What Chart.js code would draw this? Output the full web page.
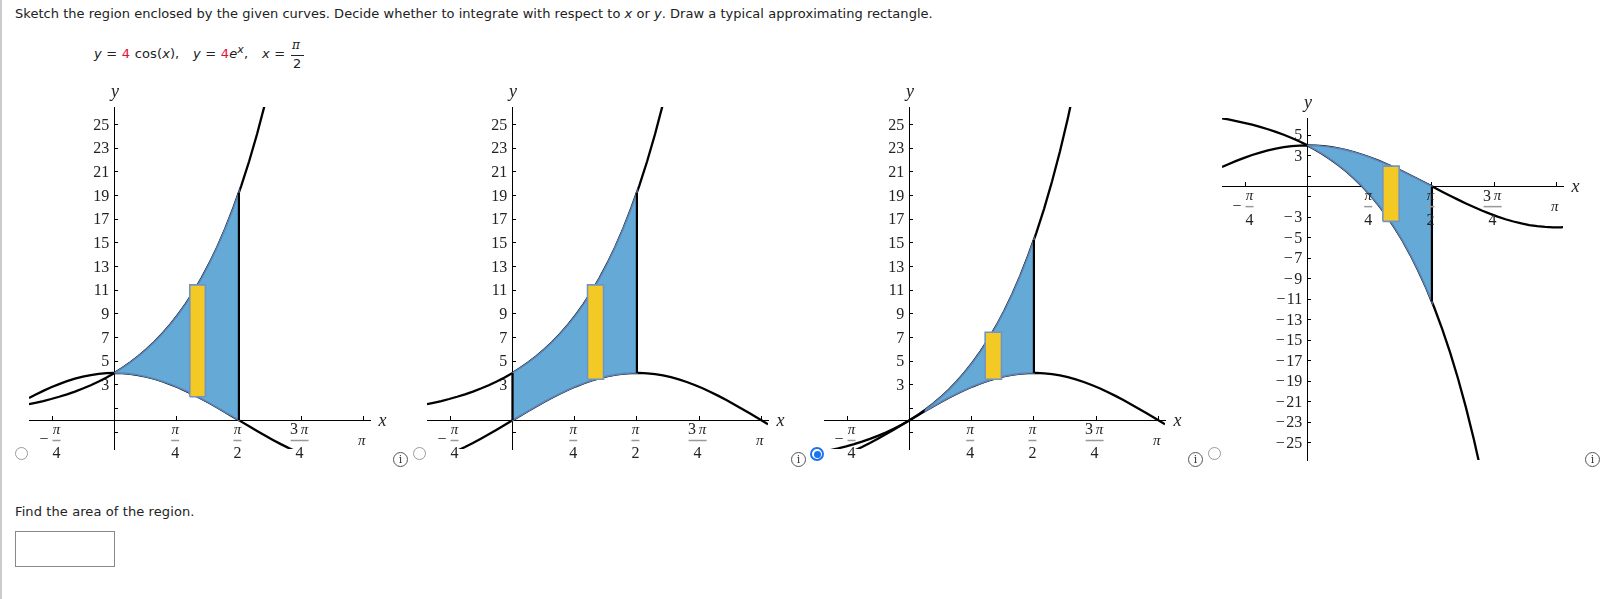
<!DOCTYPE html>
<html>
<head>
<meta charset="utf-8">
<title>Region between curves</title>
<script src="https://cdn.jsdelivr.net/npm/chart.js@4/dist/chart.umd.js"></script>
<style>
    html, body { margin: 0; padding: 0; background: #fff; overflow: hidden; }
    body { width: 1606px; height: 599px; position: relative; font-family: "DejaVu Sans", sans-serif; font-size: 13px; color: #222; }
    canvas { position: absolute; }
    .strip { position: absolute; left: 0; top: 0; width: 2px; height: 599px; background: #ccc; }
    .txt { position: absolute; white-space: nowrap; line-height: 16px; }
    .formula { letter-spacing: 0.1px; word-spacing: 0.3px; }
    .red { color: #e0103a; }
    .frac-bar { position: absolute; height: 1px; background: #222; }
    .answer { position: absolute; left: 15px; top: 531px; width: 98px; height: 34px; border: 1px solid #888; box-sizing: content-box; }
    .radio { position: absolute; width: 11px; height: 11px; border: 1.5px solid #999; border-radius: 50%; background: #fff; z-index: 2; }
    .radio.on { border: 2px solid #1a73f0; width: 10px; height: 10px; }
    .radio.on::after { content: ""; position: absolute; left: 1.5px; top: 1.5px; width: 7px; height: 7px; border-radius: 50%; background: #1a73f0; }
    .info { position: absolute; width: 13px; height: 13px; border: 1px solid #555; border-radius: 50%; font: 11px/13px "DejaVu Serif", serif; text-align: center; color: #333; background: #fff; z-index: 2; }
</style>
</head>
<body>
<div class="strip"></div>
<div class="txt" style="left:15px;top:6px;letter-spacing:0.03px;">Sketch the region enclosed by the given curves. Decide whether to integrate with respect to <i>x</i> or <i>y</i>. Draw a typical approximating rectangle.</div>
<div class="txt formula" style="left:94px;top:46px;"><i>y</i> = <span class="red">4</span> cos(<i>x</i>),</div>
<div class="txt formula" style="left:193px;top:46px;"><i>y</i> = <span class="red">4</span><i>e</i><sup style="font-size:11px;line-height:0;"><i>x</i></sup>,</div>
<div class="txt formula" style="left:262px;top:46px;"><i>x</i> =</div>
<div class="txt" style="left:292px;top:37px;font-family:'DejaVu Serif',serif;font-size:12px;"><i>π</i></div>
<div class="frac-bar" style="left:291px;top:55px;width:13px;"></div>
<div class="txt" style="left:293px;top:56px;">2</div>
<div class="txt" style="left:15px;top:504px;letter-spacing:0.1px;">Find the area of the region.</div>
<div class="answer"></div>

<canvas id="panel1" width="396" height="402" style="left:4px;top:77px;"></canvas>
<canvas id="panel2" width="396" height="402" style="left:402px;top:77px;"></canvas>
<canvas id="panel3" width="396" height="402" style="left:799px;top:77px;"></canvas>
<canvas id="panel4" width="396" height="402" style="left:1197px;top:88px;"></canvas>

<div class="radio" style="left:15px;top:447px;"></div>
<div class="radio" style="left:413px;top:447px;"></div>
<div class="radio on" style="left:810px;top:447px;"></div>
<div class="radio" style="left:1208px;top:447px;"></div>
<div class="info" style="left:393px;top:452px;">i</div>
<div class="info" style="left:791px;top:452px;">i</div>
<div class="info" style="left:1188px;top:452px;">i</div>
<div class="info" style="left:1585px;top:452px;">i</div>

<script>
// ===== CURVE VALUES =====
const xSamples = [-1.08, -1.0, -0.9, -0.8, -0.7, -0.6, -0.5, -0.4, -0.3, -0.2, -0.1, 0, 0.1, 0.2, 0.3, 0.4, 0.5, 0.6, 0.7, 0.8, 0.9, 1.0, 1.1, 1.2, 1.3, 1.4, 1.5, 1.6, 1.7, 1.8, 1.9, 2.0, 2.1, 2.2, 2.3, 2.4, 2.5, 2.6, 2.7, 2.8, 2.9, 3.0, 3.1, 3.2, 3.226];

const cosCurve = [1.885, 2.161, 2.486, 2.787, 3.059, 3.301, 3.510, 3.684, 3.821, 3.920, 3.980, 4, 3.980, 3.920, 3.821, 3.684, 3.510, 3.301, 3.059, 2.787, 2.486, 2.161, 1.814, 1.449, 1.070, 0.680, 0.283, -0.117, -0.516, -0.909, -1.293, -1.665, -2.019, -2.353, -2.663, -2.949, -3.205, -3.427, -3.616, -3.770, -3.884, -3.960, -3.998, -3.993, -3.980];
const sinCurve = [-3.528, -3.366, -3.133, -2.869, -2.577, -2.259, -1.918, -1.558, -1.182, -0.795, -0.399, 0, 0.399, 0.795, 1.182, 1.558, 1.918, 2.259, 2.577, 2.869, 3.133, 3.366, 3.565, 3.728, 3.854, 3.942, 3.990, 3.998, 3.967, 3.895, 3.785, 3.637, 3.452, 3.233, 2.982, 2.702, 2.394, 2.062, 1.709, 1.340, 0.957, 0.564, 0.166, -0.233, -0.338];
const expCurve = [1.358, 1.472, 1.626, 1.797, 1.986, 2.195, 2.426, 2.681, 2.963, 3.275, 3.619, 4, 4.421, 4.886, 5.399, 5.967, 6.595, 7.288, 8.055, 8.902, 9.838, 10.873, 12.017, 13.280, 14.677, 16.221, 17.927, 19.813, 21.896, 24.198, 26.743, 29.556];
const expShiftedCurve = [-2.642, -2.528, -2.374, -2.203, -2.014, -1.805, -1.574, -1.319, -1.037, -0.725, -0.381, 0, 0.421, 0.886, 1.399, 1.967, 2.595, 3.288, 4.055, 4.902, 5.838, 6.873, 8.017, 9.280, 10.677, 12.221, 13.927, 15.813, 17.896, 20.198, 22.743, 25.556, 28.66];
const expFlippedCurve = [6.642, 6.528, 6.374, 6.203, 6.014, 5.805, 5.574, 5.319, 5.037, 4.725, 4.381, 4, 3.579, 3.114, 2.601, 2.033, 1.405, 0.712, -0.055, -0.902, -1.838, -2.873, -4.017, -5.280, -6.677, -8.221, -9.927, -11.813, -13.896, -16.198, -18.743, -21.556, -24.66, -28.10];

const halfPi = 1.5708;

// Values of each curve at x = pi/2
const expAtHalfPi = 19.24;
const expShiftedAtHalfPi = 15.24;
const expFlippedAtHalfPi = -11.24;

// Approximating rectangles [xLeft, xRight, yBottom, yTop]
const rectangle1 = [0.95, 1.147, 1.99, 11.44];
const rectangle2 = [0.947, 1.149, 3.47, 11.44];
const rectangle3 = [0.955, 1.161, 3.47, 7.44];
const rectangle4 = [0.951, 1.157, -3.41, 1.98];

// Axis ticks
const xTickValues = [-0.7854, 0.7854, 1.5708, 2.3562, 3.1416];
const xTickNumerators = ['π', 'π', 'π', '3 π', 'π'];
const xTickDenominators = ['4', '4', '2', '4', ''];
const yTicksUpper = [25, 23, 21, 19, 17, 15, 13, 11, 9, 7, 5, 3, 1, -1];
const yTicksLower = [5, 3, 1, -1, -3, -5, -7, -9, -11, -13, -15, -17, -19, -21, -23, -25];
const yTicksUnlabeled = [1, -1];

// ===== HELPERS =====
function toPoints(values) {
    return values.map((y, i) => ({ x: xSamples[i], y: y }));
}

// Closed outline between two curves, from xStart to x = pi/2
function regionOutline(upper, lower, xStart, upperEnd, lowerEnd) {
    const top = [];
    const bottom = [];
    xSamples.forEach((x, i) => {
        if (x >= xStart && x < halfPi) {
            top.push({ x: x, y: upper[i] });
            bottom.unshift({ x: x, y: lower[i] });
        }
    });
    const outline = top.concat([{ x: halfPi, y: upperEnd }, { x: halfPi, y: lowerEnd }], bottom);
    outline.push(top[0]);
    return outline;
}

function rectangleOutline(r) {
    return [
        { x: r[0], y: r[2] }, { x: r[0], y: r[3] }, { x: r[1], y: r[3] },
        { x: r[1], y: r[2] }, { x: r[0], y: r[2] }
    ];
}

function curveDataset(values) {
    return { data: toPoints(values), showLine: true, borderColor: '#000', borderWidth: 2.3, pointRadius: 0, fill: false, order: 5 };
}

function verticalDataset(x, y1, y2) {
    return { data: [{ x: x, y: y1 }, { x: x, y: y2 }], showLine: true, borderColor: '#000', borderWidth: 2.2, pointRadius: 0, fill: false, order: 1 };
}

function regionDataset(outline) {
    return { data: outline, showLine: true, borderColor: '#5b86b9', borderWidth: 1.6, backgroundColor: '#65a9d6', pointRadius: 0, fill: 'shape', order: 3 };
}

function rectangleDataset(r) {
    return { data: rectangleOutline(r), showLine: true, borderColor: '#7095c4', borderWidth: 1.6, backgroundColor: '#f2c925', pointRadius: 0, fill: 'shape', order: 2 };
}

// X tick labels are stacked fractions, so they are drawn here at the scale's own tick pixels
const axisLabelsPlugin = {
    id: 'axisLabels',
    afterDraw(chart) {
        const ctx = chart.ctx;
        const xScale = chart.scales.x;
        const yScale = chart.scales.y;
        const axisY = yScale.getPixelForValue(0);
        const axisX = xScale.getPixelForValue(0);
        ctx.save();
        ctx.fillStyle = '#222';
        ctx.textAlign = 'center';
        ctx.textBaseline = 'middle';
        xTickValues.forEach((value, i) => {
            const tickX = xScale.getPixelForValue(value);
            const isNegative = value < 0;
            const centerX = tickX + (isNegative ? 4.2 : -1.5);
            const denominator = xTickDenominators[i];
            const numerator = xTickNumerators[i];
            if (denominator === '') {
                ctx.font = 'italic 15px "Liberation Serif", serif';
                ctx.fillText(numerator, centerX, axisY + 21);
                return;
            }
            ctx.font = '16px "Liberation Serif", serif';
            if (numerator.length > 1) {
                ctx.fillText('3', centerX - 5.5, axisY + 10);
                ctx.font = 'italic 15px "Liberation Serif", serif';
                ctx.fillText('π', centerX + 5, axisY + 10);
            } else {
                ctx.font = 'italic 15px "Liberation Serif", serif';
                ctx.fillText(numerator, centerX, axisY + 10);
            }
            ctx.font = '16px "Liberation Serif", serif';
            ctx.fillText(denominator, centerX, axisY + 34);
            const barWidth = numerator.length > 1 ? 18 : 8;
            ctx.fillStyle = '#999';
            ctx.fillRect(centerX - barWidth / 2, axisY + 19.5, barWidth, 1.5);
            ctx.fillStyle = '#222';
            if (isNegative) {
                ctx.fillText('\u2212', tickX - 8.3, axisY + 20);
            }
        });
        ctx.font = 'italic 18px "Liberation Serif", serif';
        ctx.fillText('x', chart.chartArea.right + 12.5, axisY + 1);
        ctx.fillText('y', axisX + 0.5, chart.chartArea.top - 15);
        ctx.restore();
    }
};

function drawPanel(canvasId, datasets, yMin, yMax, yTicks) {
    new Chart(document.getElementById(canvasId), {
        type: 'scatter',
        data: { datasets: datasets },
        plugins: [axisLabelsPlugin],
        options: {
            responsive: false,
            animation: false,
            events: [],
            layout: { padding: { left: 25, right: 30, top: 30, bottom: 30 } },
            plugins: { legend: { display: false }, tooltip: { enabled: false } },
            scales: {
                x: {
                    type: 'linear',
                    min: -1.08,
                    max: 3.226,
                    position: { y: 0 },
                    border: { color: '#000', width: 1 },
                    grid: { drawOnChartArea: false, drawTicks: true, tickLength: -5, tickColor: '#000' },
                    ticks: { display: false },
                    afterBuildTicks: function(axis) {
                        axis.ticks = xTickValues.map(v => ({ value: v }));
                    }
                },
                y: {
                    type: 'linear',
                    min: yMin,
                    max: yMax,
                    position: { x: 0 },
                    border: { color: '#000', width: 1 },
                    grid: { drawOnChartArea: false, drawTicks: true, tickLength: -4, tickColor: '#000' },
                    ticks: {
                        autoSkip: false,
                        color: '#222',
                        labelOffset: 1,
                        font: { family: '"Liberation Serif", serif', size: 16 },
                        callback: function(value) {
                            if (yTicksUnlabeled.includes(value)) {
                                return '';
                            }
                            const text = value < 0 ? '\u2212\u200a' + Math.abs(value) : String(value);
                            return text + '\u00a0\u200a';
                        }
                    },
                    afterBuildTicks: function(axis) {
                        axis.ticks = yTicks.map(v => ({ value: v }));
                    }
                }
            }
        }
    });
}

// ===== THE FOUR ANSWER PANELS =====
document.addEventListener('DOMContentLoaded', function() {
    drawPanel('panel1', [
        curveDataset(cosCurve),
        curveDataset(expCurve),
        regionDataset(regionOutline(expCurve, cosCurve, 0, expAtHalfPi, 0)),
        rectangleDataset(rectangle1),
        verticalDataset(halfPi, 0, expAtHalfPi)
    ], -2.43, 26.48, yTicksUpper);

    drawPanel('panel2', [
        curveDataset(sinCurve),
        curveDataset(expCurve),
        regionDataset(regionOutline(expCurve, sinCurve, 0, expAtHalfPi, 4)),
        rectangleDataset(rectangle2),
        verticalDataset(0, 0, 4),
        verticalDataset(halfPi, 4, expAtHalfPi)
    ], -2.43, 26.48, yTicksUpper);

    drawPanel('panel3', [
        curveDataset(sinCurve),
        curveDataset(expShiftedCurve),
        regionDataset(regionOutline(expShiftedCurve, sinCurve, 0.2, expShiftedAtHalfPi, 4)),
        rectangleDataset(rectangle3),
        verticalDataset(halfPi, 4, expShiftedAtHalfPi)
    ], -2.43, 26.48, yTicksUpper);

    drawPanel('panel4', [
        curveDataset(cosCurve),
        curveDataset(expFlippedCurve),
        regionDataset(regionOutline(cosCurve, expFlippedCurve, 0, 0, expFlippedAtHalfPi)),
        rectangleDataset(rectangle4),
        verticalDataset(halfPi, 0, expFlippedAtHalfPi)
    ], -26.69, 6.67, yTicksLower);
});
</script>
</body>
</html>
